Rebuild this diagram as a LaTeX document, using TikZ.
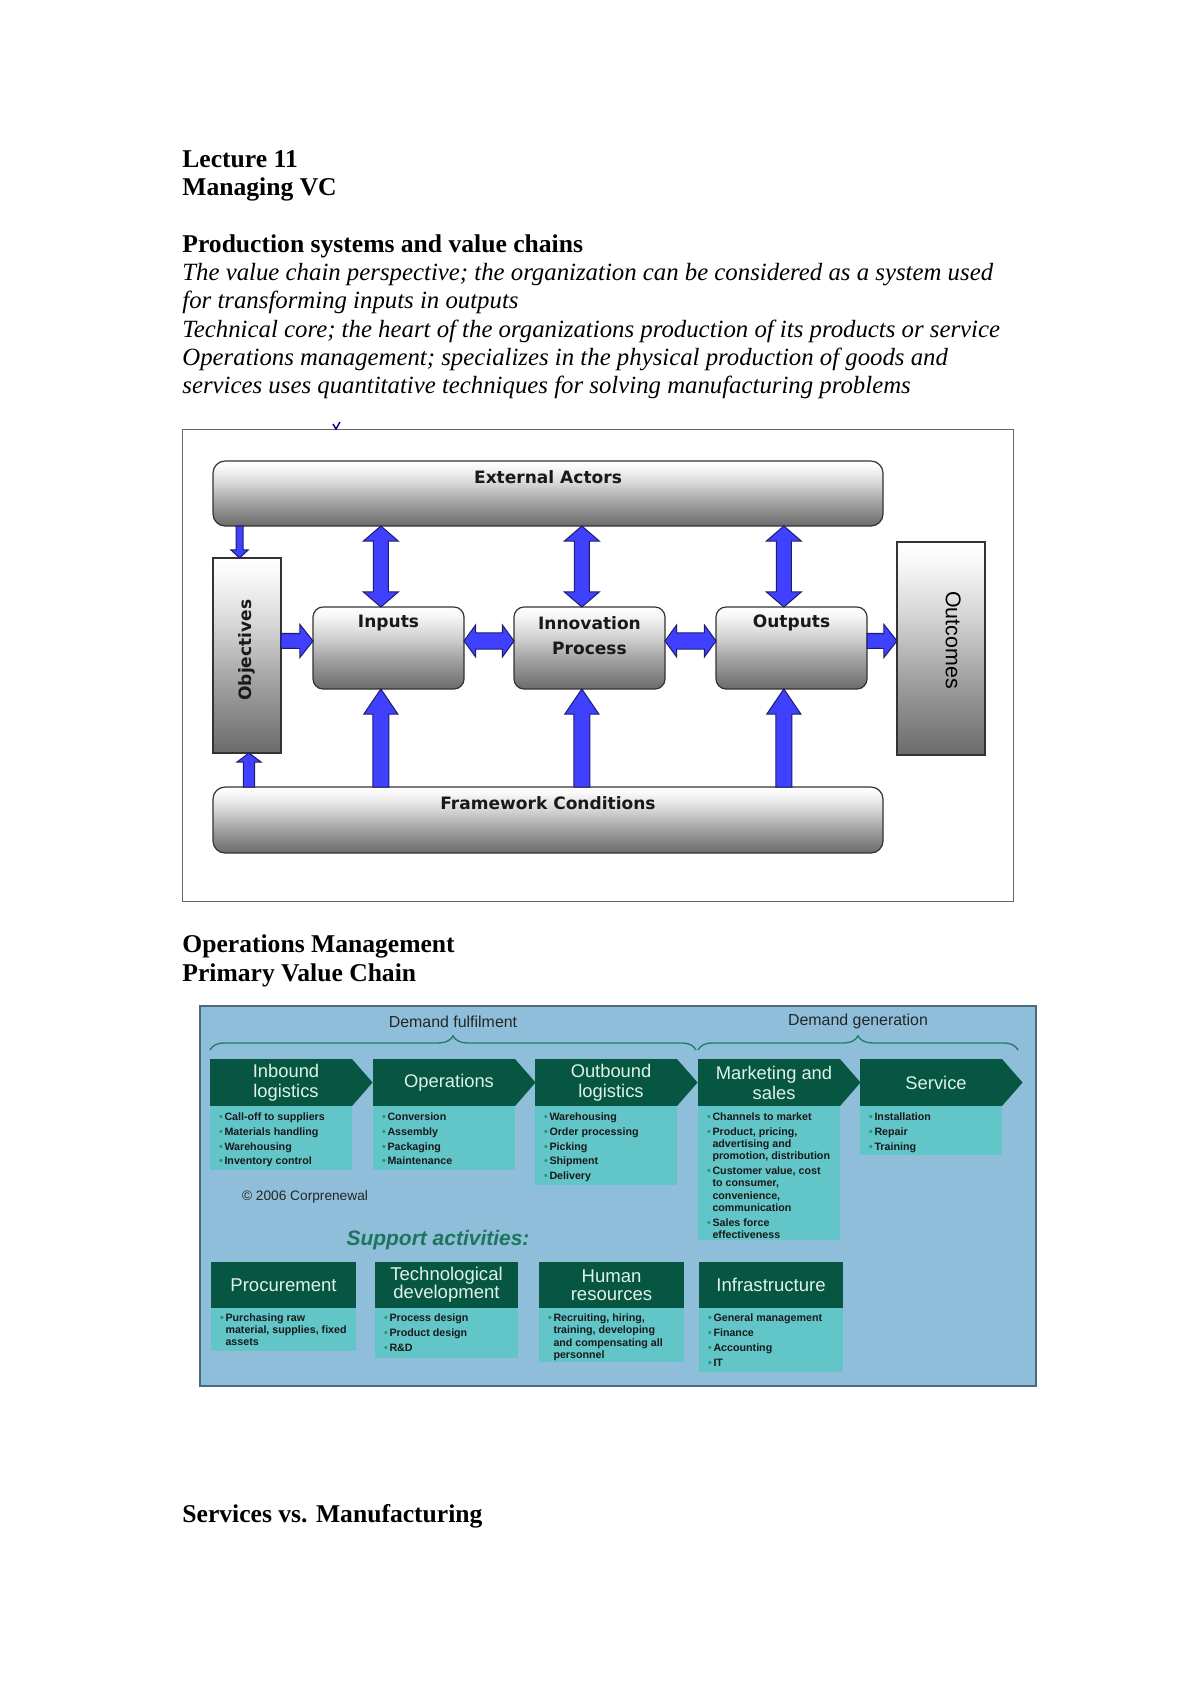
\documentclass[tikz,border=0pt]{standalone}
\usepackage{fontspec}
\setmainfont{Liberation Serif}
\newfontfamily\dvs{DejaVu Sans}
\newfontfamily\lsans{Liberation Sans}
\usetikzlibrary{calc,decorations.pathreplacing}
\newdimen\pxu \pxu=0.49607pt
\definecolor{arrfill}{RGB}{64,64,255}
\definecolor{arrline}{RGB}{30,30,110}
\definecolor{bgblue}{RGB}{143,190,218}
\definecolor{frametwo}{RGB}{75,105,128}
\definecolor{hdr}{RGB}{6,86,66}
\definecolor{hdrtxt}{RGB}{222,242,236}
\definecolor{bulbox}{RGB}{98,197,200}
\definecolor{bulcol}{RGB}{30,150,125}
\definecolor{supcol}{RGB}{28,118,92}
\definecolor{bracecol}{RGB}{40,125,110}
\pgfdeclareverticalshading{boxgrad}{100bp}{color(0bp)=(black!58); color(25bp)=(black!58); color(42bp)=(black!38); color(58bp)=(black!16); color(70bp)=(black!3); color(75bp)=(white); color(100bp)=(white)}
\newcommand\bl{\makebox[2.7pt][l]{\textcolor{bulcol}{\textbullet}}}
\newcommand\ind{\hspace*{2.7pt}}
\newcommand\gp{\\[1.3pt]}
% vertical single arrow #1 -> #2 ; half shaft #3, half head #4, head length #5 (pt numbers)
\newcommand\varrow[5]{\filldraw[barrow] let \p1=(#1), \p2=(#2), \n1={ifthenelse(\y2>\y1,1,-1)} in
 ({\x1-#3},{\y1}) -- ({\x1-#3},{\y2-(\n1)*#5}) -- ({\x1-#4},{\y2-(\n1)*#5}) -- ({\x1},{\y2}) -- ({\x1+#4},{\y2-(\n1)*#5}) -- ({\x1+#3},{\y2-(\n1)*#5}) -- ({\x1+#3},{\y1}) -- cycle;}
\newcommand\vdarrow[5]{\filldraw[barrow] let \p1=(#1), \p2=(#2), \n1={ifthenelse(\y2>\y1,1,-1)} in
 ({\x1},{\y1}) -- ({\x1+#4},{\y1+(\n1)*#5}) -- ({\x1+#3},{\y1+(\n1)*#5}) -- ({\x1+#3},{\y2-(\n1)*#5}) -- ({\x1+#4},{\y2-(\n1)*#5}) -- ({\x1},{\y2}) -- ({\x1-#4},{\y2-(\n1)*#5}) -- ({\x1-#3},{\y2-(\n1)*#5}) -- ({\x1-#3},{\y1+(\n1)*#5}) -- ({\x1-#4},{\y1+(\n1)*#5}) -- cycle;}
\newcommand\harrow[5]{\filldraw[barrow] let \p1=(#1), \p2=(#2), \n1={ifthenelse(\x2>\x1,1,-1)} in
 ({\x1},{\y1-#3}) -- ({\x2-(\n1)*#5},{\y1-#3}) -- ({\x2-(\n1)*#5},{\y1-#4}) -- ({\x2},{\y1}) -- ({\x2-(\n1)*#5},{\y1+#4}) -- ({\x2-(\n1)*#5},{\y1+#3}) -- ({\x1},{\y1+#3}) -- cycle;}
\newcommand\hdarrow[5]{\filldraw[barrow] let \p1=(#1), \p2=(#2), \n1={ifthenelse(\x2>\x1,1,-1)} in
 ({\x1},{\y1}) -- ({\x1+(\n1)*#5},{\y1+#4}) -- ({\x1+(\n1)*#5},{\y1+#3}) -- ({\x2-(\n1)*#5},{\y1+#3}) -- ({\x2-(\n1)*#5},{\y1+#4}) -- ({\x2},{\y1}) -- ({\x2-(\n1)*#5},{\y1-#4}) -- ({\x2-(\n1)*#5},{\y1-#3}) -- ({\x1+(\n1)*#5},{\y1-#3}) -- ({\x1+(\n1)*#5},{\y1-#4}) -- cycle;}
\begin{document}
\begin{tikzpicture}[x=0.49607pt,y=-0.49607pt,
  gbox/.style={draw=black!80, line width=0.6pt, shade, shading=boxgrad, outer sep=0pt, inner sep=0pt, anchor=north west},
  lbl/.style={font=\dvs\bfseries\fontsize{8.45}{12.4}\selectfont, align=center, inner sep=0pt, text=black!90},
  barrow/.style={fill=arrfill, draw=arrline, line width=0.5pt, line join=miter},
  bhead/.style={font=\bfseries\fontsize{12.7}{14}\selectfont, anchor=base west, inner sep=0pt},
  itl/.style={font=\itshape\fontsize{12.3}{14}\selectfont, anchor=base west, inner sep=0pt},
  hdrbox/.style={fill=hdr, anchor=north west, inner sep=0pt, outer sep=0pt, minimum height=47*\pxu},
  hdrlbl/.style={font=\lsans\fontsize{9.1}{9.9}\selectfont, text=hdrtxt, align=center, inner sep=0pt},
  bbox/.style={fill=bulbox, anchor=north west, inner sep=0pt, outer sep=0pt},
  btxt/.style={font=\lsans\bfseries\fontsize{5.3}{6.1}\selectfont, align=left, anchor=north west, inner sep=0pt, text=black!90},
  dlbl/.style={font=\lsans\fontsize{7.9}{9}\selectfont, text=black!85, inner sep=0pt},
]
\useasboundingbox (0,0) rectangle (1200,1698);
\fill[white] (0,0) rectangle (1200,1698);

% ---------- top text ----------
\node[bhead] (h1) at (182,167) {Lecture 11};
\node[bhead] (h2) at (182,195) {Managing VC};
\node[bhead] (h3) at (182,252) {Production systems and value chains};
\node[itl] (i1) at (182,280) {The value chain perspective; the organization can be considered as a system used};
\node[itl] (i2) at (182,308) {for transforming inputs in outputs};
\node[itl] (i3) at (182,337) {Technical core; the heart of the organizations production of its products or service};
\node[itl] (i4) at (182,365) {Operations management; specializes in the physical production of goods and};
\node[itl] (i5) at (182,393) {services uses quantitative techniques for solving manufacturing problems};

% ---------- diagram 1 ----------
\node[draw=black!60, line width=0.7pt, fill=white, anchor=north west, inner sep=0pt, minimum width=831*\pxu, minimum height=472*\pxu] (f1) at (182,429) {};
\draw[blue!55!black, line width=0.7pt] (333,424) -- (336,429) -- (340,422);

\node[gbox, rounded corners=6pt, minimum width=670*\pxu, minimum height=65*\pxu] (ea) at (213,461) {};
\node[gbox, minimum width=68*\pxu, minimum height=195*\pxu] (obj) at (213,558) {};
\node[gbox, minimum width=88*\pxu, minimum height=213*\pxu] (out) at (897,542) {};
\node[gbox, rounded corners=5pt, minimum width=151*\pxu, minimum height=82*\pxu] (inp) at (313,607) {};
\node[gbox, rounded corners=5pt, minimum width=151*\pxu, minimum height=82*\pxu] (inn) at (514,607) {};
\node[gbox, rounded corners=5pt, minimum width=151*\pxu, minimum height=82*\pxu] (outp) at (716,607) {};
\node[gbox, rounded corners=6pt, minimum width=670*\pxu, minimum height=66*\pxu] (fw) at (213,787) {};

\node[lbl] (eat) at ([yshift=-7.9pt]ea.north) {External Actors};
\node[lbl] (inpt) at ([yshift=-7.9pt]inp.north) {Inputs};
\node[lbl] (innt) at ([yshift=-14.1pt]inn.north) {Innovation\\Process};
\node[lbl] (outpt) at ([yshift=-7.9pt]outp.north) {Outputs};
\node[lbl] (fwt) at ([yshift=-7.9pt]fw.north) {Framework Conditions};
\node[lbl, rotate=90] (objt) at ([yshift=2.7pt]obj.center) {Objectives};
\node[font=\lsans\fontsize{10.6}{12}\selectfont, inner sep=0pt, rotate=-90] (outt) at ([xshift=6pt,yshift=4.2pt]out.center) {Outcomes};

\coordinate (xa) at ([xshift=-3.7pt]obj.north);
\varrow{xa |- ea.south}{xa}{1.75}{4.3}{4}
\coordinate (xb) at ([xshift=1pt]obj.south);
\varrow{xb |- fw.north}{xb}{2.8}{6}{4.5}
\coordinate (xc1) at ([xshift=-3.8pt]inp.north);
\coordinate (xc2) at ([xshift=-3.8pt]inn.north);
\coordinate (xc3) at ([xshift=-3.8pt]outp.north);
\vdarrow{xc1 |- ea.south}{xc1}{3.7}{8.7}{7.5}
\vdarrow{xc2 |- ea.south}{xc2}{3.7}{8.7}{7.5}
\vdarrow{xc3 |- ea.south}{xc3}{3.7}{8.7}{7.5}
\coordinate (xd1) at ([xshift=-3.8pt]inp.south);
\coordinate (xd2) at ([xshift=-3.8pt]inn.south);
\coordinate (xd3) at ([xshift=-3.8pt]outp.south);
\varrow{xd1 |- fw.north}{xd1}{4}{8.5}{12.5}
\varrow{xd2 |- fw.north}{xd2}{4}{8.5}{12.5}
\varrow{xd3 |- fw.north}{xd3}{4}{8.5}{12.5}
\coordinate (y1) at ([yshift=3.5pt]inp.west);
\coordinate (y2) at ([yshift=3.5pt]inp.east);
\coordinate (y3) at ([yshift=3.5pt]inn.east);
\coordinate (y4) at ([yshift=3.5pt]outp.east);
\harrow{y1 -| obj.east}{y1}{3.7}{8.2}{6.5}
\hdarrow{y2}{y2 -| inn.west}{4}{8}{5.8}
\hdarrow{y3}{y3 -| outp.west}{4}{8}{5.8}
\harrow{y4}{y4 -| out.west}{3.7}{8.2}{6.5}

% ---------- middle headings ----------
\node[bhead] (h4) at (182,952) {Operations Management};
\node[bhead] (h5) at (182,981) {Primary Value Chain};

% ---------- diagram 2 ----------
\node[draw=frametwo, line width=1.1pt, fill=bgblue, anchor=north west, inner sep=0pt, minimum width=836*\pxu, minimum height=380*\pxu] (f2) at (199,1005) {};

\node[dlbl] (dfl) at (453,1022) {Demand fulfilment};
\node[dlbl] (dgl) at (858,1021) {Demand generation};
\coordinate (b1l) at (210,1050);
\coordinate (b1r) at (696,1050);
\coordinate (b2l) at (698,1050);
\coordinate (b2r) at (1018,1050);
\draw[bracecol, line width=0.7pt, decorate, decoration={brace, amplitude=7pt}] (b1l) -- (b1r);
\draw[bracecol, line width=0.7pt, decorate, decoration={brace, amplitude=7pt}] (b2l) -- (b2r);

% chevrons
\node[hdrbox, minimum width=142*\pxu] (c1) at (210,1059) {};
\node[hdrbox, minimum width=142*\pxu] (c2) at (373,1059) {};
\node[hdrbox, minimum width=142*\pxu] (c3) at (535,1059) {};
\node[hdrbox, minimum width=142*\pxu] (c4) at (698,1059) {};
\node[hdrbox, minimum width=142*\pxu] (c5) at (860,1059) {};
\foreach \c in {c1,c2,c3,c4,c5}{
  \fill[hdr] (\c.north east) -- ([xshift=10.2pt]\c.east) -- (\c.south east) -- cycle;
}
\node[hdrlbl] (c1t) at ([xshift=2.5pt]c1.center) {Inbound\\logistics};
\node[hdrlbl] (c2t) at ([xshift=2.5pt]c2.center) {Operations};
\node[hdrlbl] (c3t) at ([xshift=2.5pt]c3.center) {Outbound\\logistics};
\node[hdrlbl] (c4t) at ([xshift=2.5pt]c4.center) {Marketing and\\sales};
\node[hdrlbl] (c5t) at ([xshift=2.5pt]c5.center) {Service};

\node[bbox, minimum width=142*\pxu, minimum height=64*\pxu] (l1) at (c1.south west) {};
\node[bbox, minimum width=142*\pxu, minimum height=64*\pxu] (l2) at (c2.south west) {};
\node[bbox, minimum width=142*\pxu, minimum height=79*\pxu] (l3) at (c3.south west) {};
\node[bbox, minimum width=142*\pxu, minimum height=134*\pxu] (l4) at (c4.south west) {};
\node[bbox, minimum width=142*\pxu, minimum height=49*\pxu] (l5) at (c5.south west) {};

\node[btxt] (l1t) at ([xshift=4.3pt,yshift=-3pt]l1.north west) {\bl Call-off to suppliers\gp\bl Materials handling\gp\bl Warehousing\gp\bl Inventory control};
\node[btxt] (l2t) at ([xshift=4.3pt,yshift=-3pt]l2.north west) {\bl Conversion\gp\bl Assembly\gp\bl Packaging\gp\bl Maintenance};
\node[btxt] (l3t) at ([xshift=4.3pt,yshift=-3pt]l3.north west) {\bl Warehousing\gp\bl Order processing\gp\bl Picking\gp\bl Shipment\gp\bl Delivery};
\node[btxt] (l4t) at ([xshift=4.3pt,yshift=-3pt]l4.north west) {\bl Channels to market\gp\bl Product, pricing,\\\ind advertising and\\\ind promotion, distribution\gp\bl Customer value, cost\\\ind to consumer,\\\ind convenience,\\\ind communication\gp\bl Sales force\\\ind effectiveness};
\node[btxt] (l5t) at ([xshift=4.3pt,yshift=-3pt]l5.north west) {\bl Installation\gp\bl Repair\gp\bl Training};

\node[font=\lsans\fontsize{6.8}{8}\selectfont, text=black!85, inner sep=0pt] (copy) at (305,1197) {\textcopyright{} 2006 Corprenewal};
\node[font=\lsans\bfseries\itshape\fontsize{10.4}{12}\selectfont, text=supcol, inner sep=0pt] (sup) at (438,1240) {Support activities:};

% support boxes
\node[hdrbox, minimum width=145*\pxu, minimum height=46*\pxu] (s1) at (211,1262) {};
\node[hdrbox, minimum width=143*\pxu, minimum height=46*\pxu] (s2) at (375,1262) {};
\node[hdrbox, minimum width=145*\pxu, minimum height=46*\pxu] (s3) at (539,1262) {};
\node[hdrbox, minimum width=144*\pxu, minimum height=46*\pxu] (s4) at (699,1262) {};
\node[hdrlbl, font=\lsans\fontsize{9.2}{8.9}\selectfont] (s1t) at (s1.center) {Procurement};
\node[hdrlbl, font=\lsans\fontsize{9.2}{8.9}\selectfont] (s2t) at (s2.center) {Technological\\development};
\node[hdrlbl, font=\lsans\fontsize{9.2}{8.9}\selectfont] (s3t) at (s3.center) {Human\\resources};
\node[hdrlbl, font=\lsans\fontsize{9.2}{8.9}\selectfont] (s4t) at (s4.center) {Infrastructure};

\node[bbox, minimum width=145*\pxu, minimum height=43*\pxu] (m1) at (s1.south west) {};
\node[bbox, minimum width=143*\pxu, minimum height=50*\pxu] (m2) at (s2.south west) {};
\node[bbox, minimum width=145*\pxu, minimum height=54*\pxu] (m3) at (s3.south west) {};
\node[bbox, minimum width=144*\pxu, minimum height=64*\pxu] (m4) at (s4.south west) {};

\node[btxt] (m1t) at ([xshift=4.3pt,yshift=-2.6pt]m1.north west) {\bl Purchasing raw\\\ind material, supplies, fixed\\\ind assets};
\node[btxt] (m2t) at ([xshift=4.3pt,yshift=-2.6pt]m2.north west) {\bl Process design\gp\bl Product design\gp\bl R\&D};
\node[btxt] (m3t) at ([xshift=4.3pt,yshift=-2.6pt]m3.north west) {\bl Recruiting, hiring,\\\ind training, developing\\\ind and compensating all\\\ind personnel};
\node[btxt] (m4t) at ([xshift=4.3pt,yshift=-2.6pt]m4.north west) {\bl General management\gp\bl Finance\gp\bl Accounting\gp\bl IT};

% ---------- bottom heading ----------
\node[bhead] (h6) at (182,1522) {Services vs. Manufacturing};
\end{tikzpicture}
\end{document}
